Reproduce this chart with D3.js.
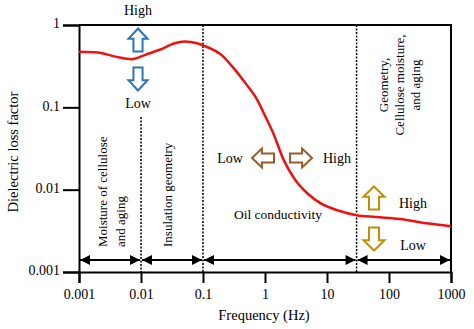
<!DOCTYPE html>
<html>
<head>
<meta charset="utf-8">
<script src="https://cdn.jsdelivr.net/npm/d3@7"></script>
<style>
    body { margin: 0; background: #fff; }
    svg { display: block; font-family: "Liberation Serif", "Times New Roman", serif; }
    .axis path, .axis line { stroke: #000; stroke-width: 2; }
    .axis text { font-size: 14px; fill: #000; font-family: "Liberation Serif", "Times New Roman", serif; }
</style>
</head>
<body>
<script>
(function(){

    //frequency response of the dielectric loss factor
    var freq = [0.001, 0.002, 0.004, 0.007, 0.012, 0.02, 0.035, 0.05, 0.08, 0.1, 0.2, 0.3, 0.5, 0.75, 1, 1.35, 2, 3, 5, 7.7, 16, 30, 60, 150, 400, 1000];
    var loss = [0.474, 0.465, 0.41, 0.384, 0.437, 0.50, 0.60, 0.63, 0.60, 0.565, 0.43, 0.31, 0.19, 0.123, 0.079, 0.049, 0.023, 0.0135, 0.0088, 0.0069, 0.0055, 0.0049, 0.00465, 0.0044, 0.0039, 0.0036];

    //axis ticks
    var xTicks = [0.001, 0.01, 0.1, 1, 10, 100, 1000];
    var xTickLabels = ["0.001", "0.01", "0.1", "1", "10", "100", "1000"];
    var yTicks = [0.001, 0.01, 0.1, 1];
    var yTickLabels = ["0.001", "0.01", "0.1", "1"];

    //region boundaries along the frequency axis
    var bounds = [0.001, 0.01, 0.1, 30, 1000];
    var dividers = [0.01, 0.1, 30];

    var width = 474, height = 329,
        margin = {top: 25, right: 23, bottom: 57, left: 79},
        innerWidth = width - margin.left - margin.right,
        innerHeight = height - margin.top - margin.bottom;

    var svg = d3.select("body").append("svg")
        .attr("width", width)
        .attr("height", height);

    var g = svg.append("g")
        .attr("transform", "translate(" + margin.left + "," + margin.top + ")");

    var x = d3.scaleLog().domain([0.001, 1000]).range([0, innerWidth]);
    var y = d3.scaleLog().domain([0.001, 1]).range([innerHeight, 0]);

    //arrowhead used by the region spans
    var defs = svg.append("defs");
    defs.append("marker")
        .attr("id", "head")
        .attr("viewBox", "0 0 10 10")
        .attr("refX", 10).attr("refY", 5)
        .attr("markerUnits", "userSpaceOnUse")
        .attr("markerWidth", 11).attr("markerHeight", 10)
        .attr("orient", "auto-start-reverse")
        .append("path")
        .attr("d", "M0,0L10,5L0,10Z")
        .attr("fill", "#000");

    //dotted region dividers (the first one stops below the label)
    g.selectAll(".divider")
        .data(dividers)
        .enter()
        .append("line")
        .attr("class", "divider")
        .attr("x1", function(d){ return x(d); })
        .attr("x2", function(d){ return x(d); })
        .attr("y1", function(d, i){ return i == 0 ? 92 : 0; })
        .attr("y2", innerHeight)
        .attr("stroke", "#000")
        .attr("stroke-width", 1.5)
        .attr("stroke-dasharray", "2,1.5");

    //double-headed spans for each region
    var spanY = innerHeight - 12;
    g.selectAll(".span")
        .data(d3.pairs(bounds))
        .enter()
        .append("line")
        .attr("class", "span")
        .attr("x1", function(d){ return x(d[0]) + 1; })
        .attr("x2", function(d){ return x(d[1]) - 1; })
        .attr("y1", spanY)
        .attr("y2", spanY)
        .attr("stroke", "#000")
        .attr("stroke-width", 2)
        .attr("marker-start", "url(#head)")
        .attr("marker-end", "url(#head)");

    //axes
    var xAxis = d3.axisBottom(x)
        .tickValues(xTicks)
        .tickFormat(function(d, i){ return xTickLabels[i]; })
        .tickSize(11)
        .tickPadding(6);
    g.append("g")
        .attr("class", "axis")
        .attr("transform", "translate(0," + innerHeight + ")")
        .call(xAxis);

    var yAxis = d3.axisLeft(y)
        .tickValues(yTicks)
        .tickFormat(function(d, i){ return yTickLabels[i]; })
        .tickSize(16)
        .tickPadding(3);
    g.append("g")
        .attr("class", "axis")
        .call(yAxis)
        .selectAll("text")
        .attr("dy", "0.2em");

    //top and right edges of the frame
    g.append("path")
        .attr("d", "M0,0H" + innerWidth + "V" + innerHeight)
        .attr("fill", "none")
        .attr("stroke", "#000")
        .attr("stroke-width", 2);

    //loss factor curve
    var line = d3.line()
        .x(function(d, i){ return x(freq[i]); })
        .y(function(d){ return y(d); })
        .curve(d3.curveMonotoneX);

    g.append("path")
        .datum(loss)
        .attr("d", line)
        .attr("fill", "none")
        .attr("stroke", "#ee1111")
        .attr("stroke-width", 2.5);

    //hollow block arrow pointing up, down, left or right
    function blockArrow(cx, cy, dir, color, len, wid){
        var hw = wid / 2, sw = wid * 0.24, hl = len * 0.45, h = len / 2;
        var pts = [[0, -h], [hw, -h + hl], [sw, -h + hl], [sw, h], [-sw, h], [-sw, -h + hl], [-hw, -h + hl]];
        var rot = {up: 0, right: 90, down: 180, left: 270}[dir];
        g.append("polygon")
            .attr("points", pts.map(function(p){ return p.join(","); }).join(" "))
            .attr("transform", "translate(" + cx + "," + cy + ") rotate(" + rot + ")")
            .attr("fill", "#fff")
            .attr("stroke", color)
            .attr("stroke-width", 2)
            .attr("stroke-linejoin", "miter");
    }

    function label(tx, ty, str, size, anchor){
        return g.append("text")
            .attr("x", tx).attr("y", ty)
            .attr("text-anchor", anchor || "middle")
            .attr("font-size", size)
            .attr("fill", "#000")
            .text(str);
    }

    //cellulose region
    blockArrow(59, 15, "up", "#2e75b6", 23, 19);
    blockArrow(59, 54, "down", "#2e75b6", 23, 19);
    label(59, -10, "High", 14);
    label(59, 83, "Low", 14);

    //oil conductivity region
    blockArrow(184, 133, "left", "#9c5a2a", 22, 19);
    blockArrow(222, 133, "right", "#9c5a2a", 22, 19);
    label(151, 138, "Low", 14);
    label(258, 138, "High", 14);
    label(199, 194, "Oil conductivity", 13.5);

    //high-frequency region
    blockArrow(295, 173, "up", "#bf9000", 23, 21);
    blockArrow(295, 214, "down", "#bf9000", 23, 21);
    label(334, 183, "High", 14);
    label(334, 225, "Low", 14);

    //rotated region captions
    function vlabel(tx, ty, str, anchor){
        g.append("text")
            .attr("transform", "translate(" + tx + "," + ty + ") rotate(-90)")
            .attr("text-anchor", anchor)
            .attr("font-size", 13)
            .attr("fill", "#000")
            .text(str);
    }
    vlabel(28, 222, "Moisture of cellulose", "start");
    vlabel(46, 222, "and aging", "start");
    vlabel(93, 222, "Insulation geometry", "start");
    vlabel(309, 60, "Geometry,", "middle");
    vlabel(325, 60, "Cellulose moisture,", "middle");
    vlabel(341, 60, "and aging", "middle");

    //axis titles
    svg.append("text")
        .attr("x", margin.left + innerWidth / 2 - 1)
        .attr("y", 320)
        .attr("text-anchor", "middle")
        .attr("font-size", 14.5)
        .text("Frequency (Hz)");

    svg.append("text")
        .attr("transform", "translate(18,152) rotate(-90)")
        .attr("text-anchor", "middle")
        .attr("font-size", 14.5)
        .text("Dielectric loss factor");

})();
</script>
</body>
</html>
